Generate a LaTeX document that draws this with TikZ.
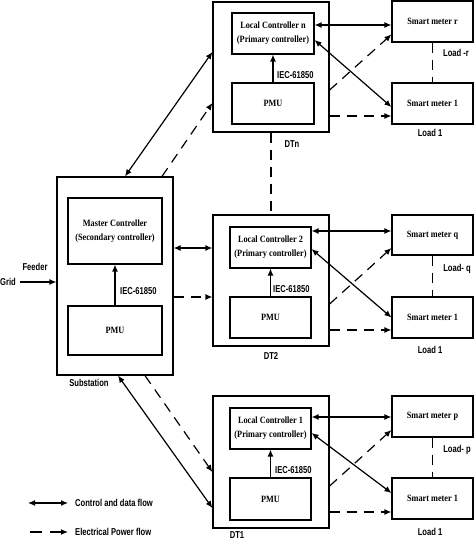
\documentclass[tikz,border=0pt]{standalone}
\usepackage{fontspec}
\newfontfamily\serifb[FakeStretch=0.86]{Liberation Serif}
\newfontfamily\sansb[FakeStretch=0.76]{Liberation Sans}
\usetikzlibrary{arrows.meta}
\begin{document}
\begin{tikzpicture}[x=1pt,y=-1pt,
  outer/.style={draw, line width=1.2pt, inner sep=0pt},
  inner/.style={draw, line width=1.1pt, inner sep=0pt, align=center,
     font=\serifb\bfseries\fontsize{9.6}{14}\selectfont},
  lab/.style={font=\sansb\bfseries\fontsize{10}{11}\selectfont, inner sep=0pt},
  bi/.style={line width=1.2pt, {Latex[length=7pt,width=6pt]}-{Latex[length=7pt,width=6pt]}},
  uni/.style={line width=1.2pt, -{Latex[length=7pt,width=6pt]}},
  pw/.style={line width=1.2pt, dash pattern=on 10pt off 7pt, -{Latex[length=7pt,width=6pt]}},
  pl/.style={line width=1.2pt, dash pattern=on 10pt off 7pt}]
\useasboundingbox (0,0) rectangle (474,540);

% Substation
\node[outer, minimum width=116pt, minimum height=198pt] (sub) at (115,276) {};
\node[inner, minimum width=94pt, minimum height=66pt] (mc) at (115,231) {Master Controller\\(Secondary controller)};
\node[inner, minimum width=94pt, minimum height=49pt] (p0) at (115,330.5) {PMU};
\draw[uni] (p0.north) -- (mc.south);
\node[lab, anchor=west] (iec0) at (120,291) {IEC-61850};
\node[lab] (feeder) at (35,267) {Feeder};
\node[lab, anchor=west] (grid) at (0,282) {Grid};
\node[lab] (sublab) at (89,383) {Substation};

% DTn
\node[outer, minimum width=116pt, minimum height=130pt] (dtn) at (271,67) {};
\node[inner, minimum width=82pt, minimum height=41pt] (lcn) at (273,33.5) {Local Controller n\\(Primary controller)};
\node[inner, minimum width=82pt, minimum height=41pt] (pn) at (273,103.5) {PMU};
\draw[uni] (pn.north) -- (lcn.south);
\node[lab, anchor=west] (iecn) at (277,75) {IEC-61850};
\node[lab] (dtnlab) at (292,144) {DTn};
\node[inner, minimum width=81pt, minimum height=41pt] (smr) at (432.5,21.5) {Smart meter r};
\node[inner, minimum width=81pt, minimum height=41pt] (smn1) at (432.5,103.5) {Smart meter 1};
\node[lab] (loadr) at (456,53) {Load -r};
\node[lab] (loadn1) at (430,133) {Load 1};

% DT2
\node[outer, minimum width=116pt, minimum height=131pt] (dt2) at (271,280.5) {};
\node[inner, minimum width=81pt, minimum height=41pt] (lc2) at (270.5,247.5) {Local Controller 2\\(Primary controller)};
\node[inner, minimum width=81pt, minimum height=41pt] (p2) at (270.5,317.5) {PMU};
\draw[uni] (p2.north) -- (lc2.south);
\node[lab, anchor=west] (iec2) at (273,289) {IEC-61850};
\node[lab] (dt2lab) at (271,356) {DT2};
\node[inner, minimum width=81pt, minimum height=40pt] (smq) at (432.5,235) {Smart meter q};
\node[inner, minimum width=81pt, minimum height=41pt] (sm21) at (432.5,317.5) {Smart meter 1};
\node[lab] (loadq) at (457,269) {Load- q};
\node[lab] (load21) at (430,350) {Load 1};

% DT1
\node[outer, minimum width=116pt, minimum height=132pt] (dt1) at (271,462) {};
\node[inner, minimum width=81pt, minimum height=41pt] (lc1) at (270.5,428.5) {Local Controller 1\\(Primary controller)};
\node[inner, minimum width=81pt, minimum height=42pt] (p1) at (270.5,499) {PMU};
\draw[uni] (p1.north) -- (lc1.south);
\node[lab, anchor=west] (iec1) at (275,470) {IEC-61850};
\node[lab] (dt1lab) at (237,535) {DT1};
\node[inner, minimum width=81pt, minimum height=41pt] (smp) at (432.5,416.5) {Smart meter p};
\node[inner, minimum width=81pt, minimum height=41pt] (sm11) at (432.5,498.5) {Smart meter 1};
\node[lab] (loadp) at (457,450) {Load- p};
\node[lab] (load11) at (430,532) {Load 1};

% DTn connectors
\draw[bi] ([yshift=8.5pt]lcn.east) -- ([yshift=8.5pt]lcn.east -| smr.west);
\draw[bi] ([yshift=-6.5pt]lcn.east) -- ([yshift=-3.5pt]smn1.west);
\draw[pw] ([yshift=-23pt]dtn.east) -- ([yshift=-13pt]smr.west);
\draw[pw] ([yshift=-49pt]dtn.east) -- ([yshift=-49pt]dtn.east -| smn1.west);
\draw[pl] (smr.south) -- (smn1.north);

% DT2 connectors
\draw[bi] ([yshift=16.5pt]lc2.east) -- ([yshift=16.5pt]lc2.east -| smq.west);
\draw[bi] ([yshift=-1.5pt]lc2.east) -- (sm21.west);
\draw[pw] ([yshift=-23.5pt]dt2.east) -- ([yshift=-13pt]smq.west);
\draw[pw] ([yshift=-49.5pt]dt2.east) -- ([yshift=-49.5pt]dt2.east -| sm21.west);
\draw[pl] (smq.south) -- (sm21.north);

% DT1 connectors
\draw[bi] ([yshift=11.5pt]lc1.east) -- ([yshift=11.5pt]lc1.east -| smp.west);
\draw[bi] ([yshift=-4.5pt]lc1.east) -- ([yshift=5.5pt]sm11.west);
\draw[pw] ([yshift=-24pt]dt1.east) -- ([yshift=-13.5pt]smp.west);
\draw[pw] ([yshift=-50pt]dt1.east) -- ([yshift=-50pt]dt1.east -| sm11.west);
\draw[pl] (smp.south) -- (sm11.north);

% DTn to DT2
\draw[pl] (dtn.south) -- (dt2.north);

% Substation connectors
\draw[uni] (grid.east) ++(4pt,0) -- ([yshift=-6pt]sub.west);
\draw[bi] ([yshift=28pt]sub.east) -- ([yshift=28pt]sub.east -| dt2.west);
\draw[pw] ([yshift=-21pt]sub.east) -- ([yshift=-21pt]sub.east -| dt2.west);
\draw[bi] ([xshift=10pt]sub.north) -- ([yshift=15pt]dtn.west);
\draw[pw] ([xshift=47pt]sub.north) -- ([yshift=-36pt]dtn.west);
\draw[bi] ([xshift=3pt]sub.south) -- ([yshift=-46pt]dt1.west);
\draw[pw] ([xshift=30pt]sub.south) -- ([yshift=-10pt]dt1.west);

% Legend
\coordinate (la) at (28,503);
\coordinate (lb) at (68,503);
\coordinate (lc) at (30,532);
\coordinate (ld) at (68,532);
\draw[bi] (la) -- (lb);
\draw[line width=1.2pt, dash pattern=on 12pt off 8pt, -{Latex[length=7pt,width=6pt]}] (lc) -- (ld);
\node[lab, anchor=west] (leg1) at (75,503) {Control and data flow};
\node[lab, anchor=west] (leg2) at (75,532) {Electrical Power flow};
\end{tikzpicture}
\end{document}
